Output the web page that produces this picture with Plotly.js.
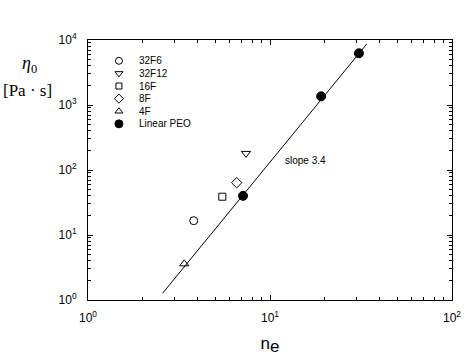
<!DOCTYPE html>
<html>
<head>
<meta charset="utf-8">
<script src="https://cdn.plot.ly/plotly-3.0.1.min.js"></script>
<style>html,body{margin:0;padding:0;background:#fff}#chart{width:474px;height:362px}</style>
</head>
<body>
<div id="chart"></div>
<script>
// ---- data ----
const seriesNames = ['32F6', '32F12', '16F', '8F', '4F', 'Linear PEO'];
const ne_32F6 = [3.81];   const eta_32F6 = [16.6];
const ne_32F12 = [7.38];  const eta_32F12 = [180];
const ne_16F = [5.47];    const eta_16F = [38.8];
const ne_8F = [6.56];     const eta_8F = [63.8];
const ne_4F = [3.38];     const eta_4F = [3.6];
const ne_PEO = [7.11, 19.1, 30.8];
const eta_PEO = [40, 1360, 6240];
const fitNe = [2.57, 34.0];
const fitEta = [1.27, 8670];
const slopeLabel = 'slope 3.4';
const tickValues = [1, 10, 100, 1000, 10000];
const xTickText = ['10<sup>0</sup>', '10<sup>1</sup>', '10<sup>2</sup>'];
const yTickText = ['10<sup>0</sup>', '10<sup>1</sup>', '10<sup>2</sup>', '10<sup>3</sup>', '10<sup>4</sup>'];

// ---- styles ----
const symbols = ['circle-open', 'triangle-down-open', 'square-open', 'diamond-open', 'triangle-up-open', 'circle'];
const sizes = [8, 8, 7, 8, 8, 9];
const xs = [ne_32F6, ne_32F12, ne_16F, ne_8F, ne_4F, ne_PEO];
const ys = [eta_32F6, eta_32F12, eta_16F, eta_8F, eta_4F, eta_PEO];

const traces = [{
  x: fitNe, y: fitEta, mode: 'lines', type: 'scatter',
  line: {color: '#000', width: 1}, showlegend: false, hoverinfo: 'skip'
}];
seriesNames.forEach((n, i) => {
  traces.push({
    x: xs[i], y: ys[i], mode: 'markers', type: 'scatter', name: n, showlegend: false,
    marker: {symbol: symbols[i], size: sizes[i], color: '#000', line: {color: '#000', width: 1}}
  });
});
// legend samples on an overlay axis (0..1 in both directions)
const legX = 0.085, legY0 = 0.92, legStep = 0.0485;
seriesNames.forEach((n, i) => {
  traces.push({
    x: [legX], y: [legY0 - i * legStep], xaxis: 'x2', yaxis: 'y2', mode: 'markers', type: 'scatter',
    showlegend: false, hoverinfo: 'skip',
    marker: {symbol: symbols[i], size: sizes[i] - 1, color: '#000', line: {color: '#000', width: 1}}
  });
});
// empty trace so the minor-tick overlay axes are drawn
traces.push({x: [], y: [], xaxis: 'x3', yaxis: 'y3', type: 'scatter', mode: 'markers', showlegend: false});

const annotations = seriesNames.map((n, i) => ({
  text: n, xref: 'paper', yref: 'paper', x: 0.135, y: legY0 - i * legStep,
  xanchor: 'left', yanchor: 'middle', showarrow: false,
  font: {family: 'Liberation Sans, Arial', size: 10, color: '#000'}
}));
annotations.push({
  text: slopeLabel, xref: 'x', yref: 'y', x: Math.log10(11.8), y: Math.log10(140),
  xanchor: 'left', yanchor: 'middle', showarrow: false,
  font: {family: 'Liberation Sans, Arial', size: 10, color: '#000'}
});
annotations.push({
  text: '<i>η</i><sub>0</sub>', xref: 'paper', yref: 'paper', x: -0.162, y: 0.907,
  xanchor: 'center', yanchor: 'middle', showarrow: false,
  font: {family: 'Liberation Serif, Times New Roman', size: 18, color: '#000'}
});
annotations.push({
  text: '[Pa · s]', xref: 'paper', yref: 'paper', x: -0.165, y: 0.805,
  xanchor: 'center', yanchor: 'middle', showarrow: false,
  font: {family: 'Liberation Serif, Times New Roman', size: 17, color: '#000'}
});

const axisCommon = {
  type: 'log', showgrid: false, zeroline: false, showline: true, linecolor: '#000', linewidth: 1,
  mirror: 'ticks', ticks: 'inside', ticklen: 5, tickwidth: 1, tickcolor: '#000',
  tickmode: 'array', tickvals: tickValues,
  tickfont: {family: 'Liberation Sans, Arial', size: 12, color: '#000'}
};
const minorAxis = {
  type: 'log', showgrid: false, zeroline: false, showline: false, showticklabels: false,
  mirror: 'ticks', ticks: 'inside', ticklen: 3, tickwidth: 1, tickcolor: '#000',
  tickmode: 'linear', tick0: 0, dtick: 'D1', fixedrange: true
};

const layout = {
  width: 474, height: 362,
  margin: {l: 88, r: 22, t: 40, b: 62},
  paper_bgcolor: '#fff', plot_bgcolor: '#fff',
  showlegend: false,
  xaxis: Object.assign({}, axisCommon, {
    range: [0, 2], ticktext: xTickText, ticklabelstandoff: 7,
    title: {text: 'n<sub><span style="font-size:17px">e</span></sub>', standoff: 12,
            font: {family: 'Liberation Sans, Arial', size: 17, color: '#000'}}
  }),
  yaxis: Object.assign({}, axisCommon, {
    range: [0, 4], ticktext: yTickText, ticklabelstandoff: 8
  }),
  xaxis2: {overlaying: 'x', range: [0, 1], visible: false, fixedrange: true},
  yaxis2: {overlaying: 'y', range: [0, 1], visible: false, fixedrange: true},
  xaxis3: Object.assign({}, minorAxis, {overlaying: 'x', range: [0, 2]}),
  yaxis3: Object.assign({}, minorAxis, {overlaying: 'y', range: [0, 4]}),
  annotations: annotations
};

Plotly.newPlot('chart', traces, layout, {staticPlot: true, displayModeBar: false});
</script>
</body>
</html>
